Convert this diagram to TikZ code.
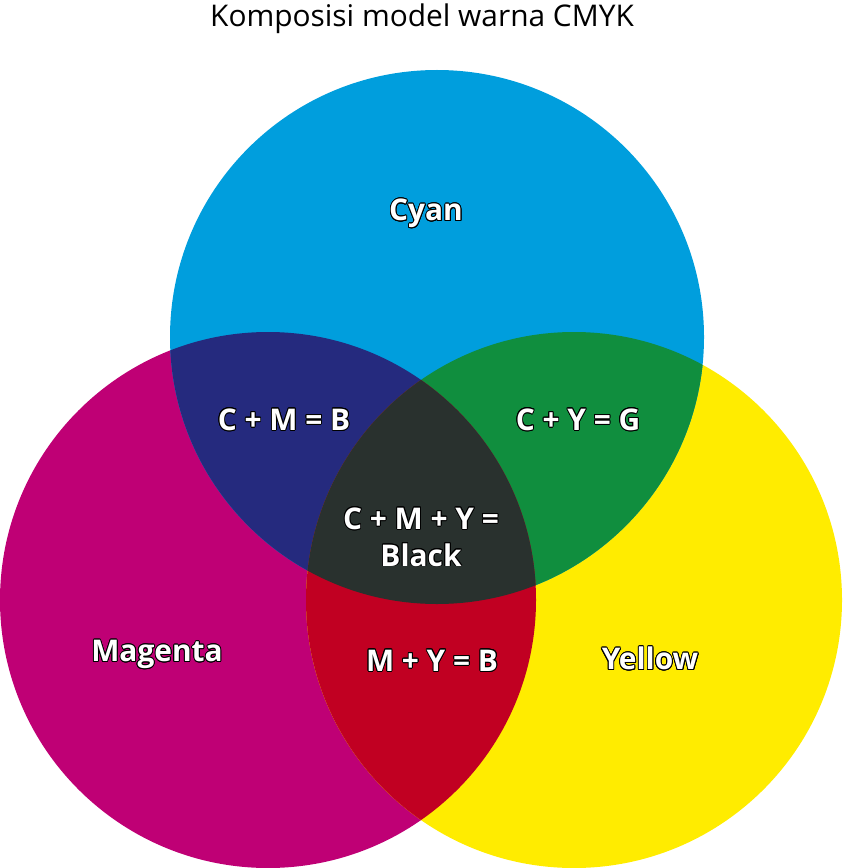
\documentclass[tikz,border=0pt]{standalone}
\usepackage{fontspec}
\setmainfont{Open Sans}
\usepackage{tikz}
\usepackage[copies]{contour}
\usetikzlibrary{positioning}
\definecolor{cyanwarna}{HTML}{009EDD}
\definecolor{magentawarna}{HTML}{BF0075}
\definecolor{kuningwarna}{HTML}{FFEC00}
\definecolor{biruwarna}{HTML}{252A7E}
\definecolor{hijauwarna}{HTML}{108E3E}
\definecolor{merahwarna}{HTML}{C10022}
\definecolor{hitamwarna}{HTML}{29312E}
\contourlength{0.5pt}
\tikzset{
	% label warna (putih, garis tepi gelap)
	labelwarna/.style={text=white, font=\bfseries\fontsize{17}{20}\selectfont, align=center, inner sep=0pt},
	% judul
	judul/.style={font=\fontsize{17}{20}\selectfont, inner sep=0pt},
}
\begin{document}
\begin{tikzpicture}[x=0.02cm, y=-0.02cm]
    \useasboundingbox (0,0) rectangle (842,868);
    % lingkaran dasar
    \fill[magentawarna] (268,600) circle [radius=268];
    \fill[kuningwarna]  (574,600) circle [radius=268];
    \fill[cyanwarna]    (437,337) circle [radius=267];
    % irisan dua warna
    \begin{scope}
      \clip (437,337) circle [radius=267];
      \fill[biruwarna]  (268,600) circle [radius=268];
      \fill[hijauwarna] (574,600) circle [radius=268];
    \end{scope}
    \begin{scope}
      \clip (268,600) circle [radius=268];
      \fill[merahwarna] (574,600) circle [radius=268];
    \end{scope}
    % irisan tiga warna
    \begin{scope}
      \clip (437,337) circle [radius=267];
      \clip (268,600) circle [radius=268];
      \fill[hitamwarna] (574,600) circle [radius=268];
    \end{scope}
    % teks
    \node[judul] (judul) at (422,19) {Komposisi model warna CMYK};
    \node[labelwarna] (cyan) at (426,214) {\contour{black}{Cyan}};
    \node[labelwarna] (cm) at (284,420) {\contour{black}{C + M = B}};
    \node[labelwarna] (cy) at (578,420) {\contour{black}{C + Y = G}};
    \node[labelwarna] (cmy) at (421,519) {\contour{black}{C + M + Y =}};
    \node[labelwarna, below=7pt of cmy] (hitam) {\contour{black}{Black}};
    \node[labelwarna] (my) at (432,661) {\contour{black}{M + Y = B}};
    \node[labelwarna] (magenta) at (157,655) {\contour{black}{Magenta}};
    \node[labelwarna] (kuning) at (650,659) {\contour{black}{Yellow}};
\end{tikzpicture}
\end{document}
